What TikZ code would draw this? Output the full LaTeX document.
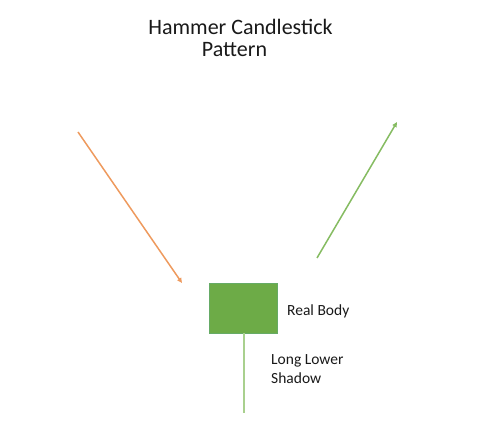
\documentclass[tikz,border=0pt]{standalone}
\usepackage{fontspec}
\setmainfont{Carlito}
\usetikzlibrary{arrows.meta,positioning}

\begin{document}
\begin{tikzpicture}[
  x=1pt, y=-1pt,
  every node/.style={font=\fontsize{15.5}{19}\selectfont, text=black!90, inner sep=0pt},
  ttl/.style={font=\fontsize{22}{24}\selectfont, anchor=base},
  lbl/.style={anchor=base west, align=left},
  body/.style={draw=green!45!black!60!white, fill=candle, minimum width=68pt,
               minimum height=50pt, line width=0.6pt},
  wick/.style={draw=wickc, line width=1.2pt},
  downarr/.style={-{Triangle[length=5pt, width=4.5pt]}, draw=orangec, line width=1.5pt},
  uparr/.style={-{Triangle[length=5pt, width=4.5pt]}, draw=upc, line width=1.5pt}
]
\definecolor{candle}{HTML}{6DAB47}
\definecolor{wickc}{HTML}{A9D08E}
\definecolor{orangec}{HTML}{EE9A5E}
\definecolor{upc}{HTML}{86BC62}
\useasboundingbox (0,0) rectangle (504,441);

\node[ttl] (title) at (240.5,35) {Hammer Candlestick};
\node[ttl] (title2) at (234.5,57) {Pattern};

\node[body] (body) at (243,308) {};
\coordinate (tail) at (244,413);
\draw[wick] (body.south -| tail) -- (tail);

\node[lbl] (real) at (287,316) {Real Body};
\node[lbl] (shadow) at (271,383) {Long Lower\\Shadow};

\coordinate (d0) at (78,132);
\coordinate (d1) at (182,283);
\draw[downarr] (d0) -- (d1);

\coordinate (u0) at (317,258);
\coordinate (u1) at (397,122);
\draw[uparr] (u0) -- (u1);
\end{tikzpicture}
\end{document}
